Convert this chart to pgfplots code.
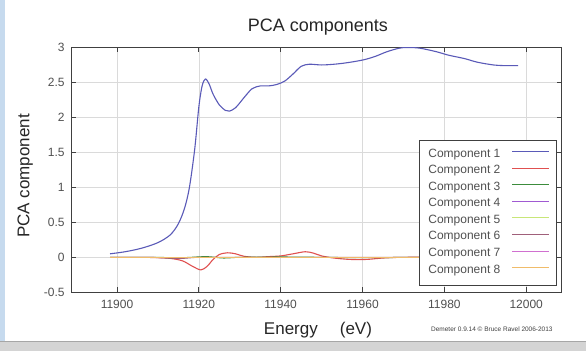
\documentclass[border=0pt]{standalone}
\usepackage{pgfplots}
\pgfplotsset{compat=1.18}
\usepackage{fontspec}
\setmainfont{Liberation Sans}
\definecolor{cA}{HTML}{5A5AB8}
\definecolor{cB}{HTML}{E05050}
\definecolor{cC}{HTML}{3C8C3C}
\definecolor{cD}{HTML}{A05AD2}
\definecolor{cE}{HTML}{C8E678}
\definecolor{cF}{HTML}{A0607A}
\definecolor{cG}{HTML}{D070D0}
\definecolor{cH}{HTML}{F0BC6A}
\definecolor{axgray}{HTML}{404040}
\definecolor{labgray}{HTML}{505050}
\definecolor{gridgray}{HTML}{DADADA}
\definecolor{bluestrip}{HTML}{C6DAEE}
\definecolor{greystrip}{HTML}{D4D4D4}
\begin{document}
\begin{tikzpicture}[x=1pt,y=1pt]
\fill[white] (0,0) rectangle (586,351);
\fill[bluestrip] (0,0) rectangle (5,351);
\fill[greystrip] (0,0) rectangle (586,10);
\draw[gray!70] (0,10) -- (586,10);
\begin{axis}[
  at={(71pt,58.5pt)}, anchor=south west,
  scale only axis, width=491pt, height=245pt,
  xmin=11888.8, xmax=12008.7, ymin=-0.5, ymax=3,
  xtick={11900,11920,11940,11960,11980,12000},
  ytick={-0.5,0,0.5,1,1.5,2,2.5,3},
  scaled x ticks=false, scaled y ticks=false,
  /pgf/number format/assume math mode=true,
  /pgf/number format/set thousands separator={},
  xticklabel style={font=\fontsize{12}{12}\selectfont, text=labgray, yshift=-4pt},
  yticklabel style={font=\fontsize{12}{12}\selectfont, text=labgray, xshift=-3pt},
  tick align=inside, major tick length=5pt,
  tick style={axgray, line width=0.7pt},
  axis line style={axgray, line width=0.8pt},
  grid=major, major grid style={gridgray, line width=0.6pt},
  clip=true,
  legend style={at={(rel axis cs:0.9898,0.0286)}, anchor=south east,
    draw=axgray, line width=0.7pt, fill=white,
    font=\fontsize{12}{14}\selectfont, text=labgray,
    legend plot pos=right, legend cell align=left,
    inner xsep=7pt, inner ysep=6pt, row sep=0pt,
    nodes={inner ysep=0pt, text height=10.8pt, text depth=5.8pt}},
  legend image code/.code={\path (0pt,0pt); \draw[#1, line width=1pt] (9pt,3pt) -- (46pt,3pt);},
]
\addplot[cA, line width=1.1pt, smooth] coordinates {
(11898.3,0.05)(11902,0.08)(11906,0.13)(11910,0.21)(11913,0.32)(11915,0.48)
(11916.5,0.70)(11917.7,1.00)(11919,1.55)(11920,2.15)(11920.8,2.45)(11921.6,2.55)
(11922.5,2.48)(11923.5,2.33)(11925,2.18)(11926.5,2.10)(11927.5,2.09)(11929,2.14)
(11931,2.28)(11933,2.41)(11935,2.45)(11937,2.45)(11939,2.47)(11941,2.52)
(11943,2.62)(11945,2.73)(11947,2.76)(11950,2.75)(11953,2.76)(11956,2.78)
(11960,2.82)(11963,2.87)(11966,2.94)(11969,2.99)(11971,3.00)(11974,2.99)
(11978,2.94)(11981,2.89)(11985,2.84)(11988,2.79)(11992,2.75)(11995,2.74)(11998,2.74)};
\addlegendentry{Component 1}
\addplot[cB, line width=1.1pt, smooth] coordinates {
(11898.3,0)(11906,0)(11910,-0.005)(11913,-0.015)(11916,-0.05)(11918.5,-0.13)
(11920.5,-0.18)(11922,-0.13)(11923.5,-0.03)(11925,0.04)(11927,0.065)(11929,0.05)
(11931,0.015)(11934,0.0)(11937,0.01)(11940,0.02)(11943,0.05)(11946,0.08)
(11948,0.06)(11950,0.02)(11953,-0.01)(11957,-0.03)(11961,-0.03)(11965,-0.01)
(11970,0)(11983,0)};
\addlegendentry{Component 2}
\addplot[cC, line width=1pt, smooth] coordinates {
(11898.3,0)(11910,0)(11914,-0.01)(11918,0.0)(11922,0.01)(11926,-0.01)
(11930,0.0)(11940,0.005)(11950,0)(11960,-0.005)(11975,0)(11998,0)};
\addlegendentry{Component 3}
\addplot[cD, line width=1pt] coordinates {(11898.3,0)(11998,0)};
\addlegendentry{Component 4}
\addplot[cE, line width=1pt] coordinates {(11898.3,0)(11998,0)};
\addlegendentry{Component 5}
\addplot[cF, line width=1pt, smooth] coordinates {
(11898.3,0)(11908,0)(11912,-0.01)(11916,-0.015)(11920,0)(11930,0)(11998,0)};
\addlegendentry{Component 6}
\addplot[cG, line width=1pt] coordinates {(11898.3,0)(11998,0)};
\addlegendentry{Component 7}
\addplot[cH, line width=1.2pt] coordinates {(11898.3,0)(11998,0)};
\addlegendentry{Component 8}
\end{axis}
\node[font=\fontsize{18}{18}\selectfont, text=black!85] at (318,324) {PCA components};
\node[font=\fontsize{17}{17}\selectfont, text=black!85, rotate=90] at (25,175) {PCA component};
\node[font=\fontsize{17}{17}\selectfont, text=black!85] at (318,21) {Energy\hspace{1.3em}(eV)};
\node[font=\fontsize{6.5}{6.5}\selectfont, text=black!75] at (492,22) {Demeter 0.9.14 © Bruce Ravel 2006-2013};
\end{tikzpicture}
\end{document}
